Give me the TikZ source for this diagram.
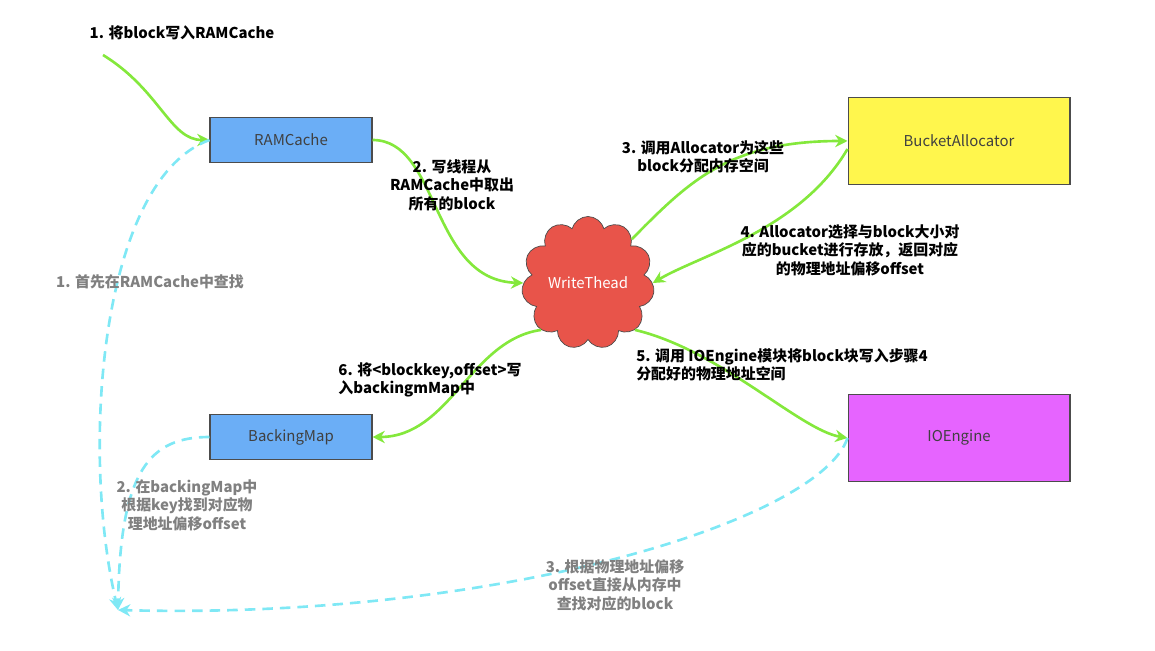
\documentclass[tikz,border=0pt]{standalone}
\usepackage{fontspec}
\setmainfont{Noto Sans CJK SC}
\usetikzlibrary{shapes.symbols,arrows.meta}
\definecolor{gr}{HTML}{84E83C}
\definecolor{cy}{HTML}{7FE8F5}
\definecolor{bl}{HTML}{6BAEF6}
\begin{document}
\begin{tikzpicture}[x=0.02cm,y=-0.02cm,
 box/.style={draw=black!70,line width=0.6pt,minimum width=3.24cm,minimum height=0.9cm,inner sep=0,font=\fontsize{8.5}{10}\selectfont,text=black!75},
 big/.style={draw=black!70,line width=0.6pt,minimum width=4.44cm,minimum height=1.74cm,inner sep=0,font=\fontsize{8.5}{10}\selectfont,text=black!75},
 ga/.style={draw=gr,line width=1.5pt,-{Stealth[length=7pt,width=7pt]}},
 ca/.style={draw=cy,line width=1.5pt,dashed,dash pattern=on 6pt off 4pt,-{Stealth[length=7pt,width=7pt]}},
 lb/.style={font=\bfseries\fontsize{8.5}{10.5}\selectfont,align=center,inner sep=1pt},
 gl/.style={lb,text=black!50}]
\useasboundingbox (0,0) rectangle (1155,651);
\node[box,fill=bl] (ram) at (291,140) {RAMCache};
\node[box,fill=bl] (bm) at (291,437) {BackingMap};
\node[big,fill=yellow!70!white] (ba) at (959,141) {BucketAllocator};
\node[big,fill={rgb,255:red,230;green,100;blue,255}] (io) at (959,438) {IOEngine};
\node[cloud,draw=black!70,fill={rgb,255:red,232;green,84;blue,74},cloud puffs=11,minimum width=2.6cm,minimum height=1.8cm,inner sep=0,font=\fontsize{8.5}{10}\selectfont,text=white] (wt) at (588,283) {WriteThead};
\coordinate (s) at (103,55);
\coordinate (e) at (118,610);
\draw[ga] (s) .. controls (160,90) and (170,140) .. (ram.west);
\draw[ga] (ram.east) .. controls (440,140) and (430,280) .. (wt.west);
\draw[ga] (wt.north east) .. controls (690,180) and (730,141) .. (ba.west);
\draw[ga] (ba.west) ++(0,8) .. controls (800,230) and (700,255) .. (wt.east);
\draw[ga] (wt.south east) .. controls (720,350) and (800,430) .. (io.west);
\draw[ga] (wt.south west) .. controls (470,340) and (450,437) .. (bm.east);
\draw[ca] (ram.west) .. controls (100,180) and (80,450) .. (e);
\draw[ca] (bm.west) .. controls (150,437) and (120,470) .. (e);
\draw[ca] (io.west) .. controls (820,520) and (500,620) .. (e);
\node[lb] at (182,33) {1. 将block写入RAMCache};
\node[lb] at (452,185) {2. 写线程从\\RAMCache中取出\\所有的block};
\node[lb] at (703,157) {3. 调用Allocator为这些\\block分配内存空间};
\node[lb] at (850,250) {4. Allocator选择与block大小对\\应的bucket进行存放，返回对应\\的物理地址偏移offset};
\node[lb,align=left] at (782,365) {5. 调用 IOEngine模块将block块写入步骤4\\分配好的物理地址空间};
\node[lb,align=left] at (430,380) {6. 将<blockkey,offset>写\\入backingmMap中};
\node[gl] at (150,282) {1. 首先在RAMCache中查找};
\node[gl] at (187,505) {2. 在backingMap中\\根据key找到对应物\\理地址偏移offset};
\node[gl] at (615,585) {3. 根据物理地址偏移\\offset直接从内存中\\查找对应的block};
\end{tikzpicture}
\end{document}
